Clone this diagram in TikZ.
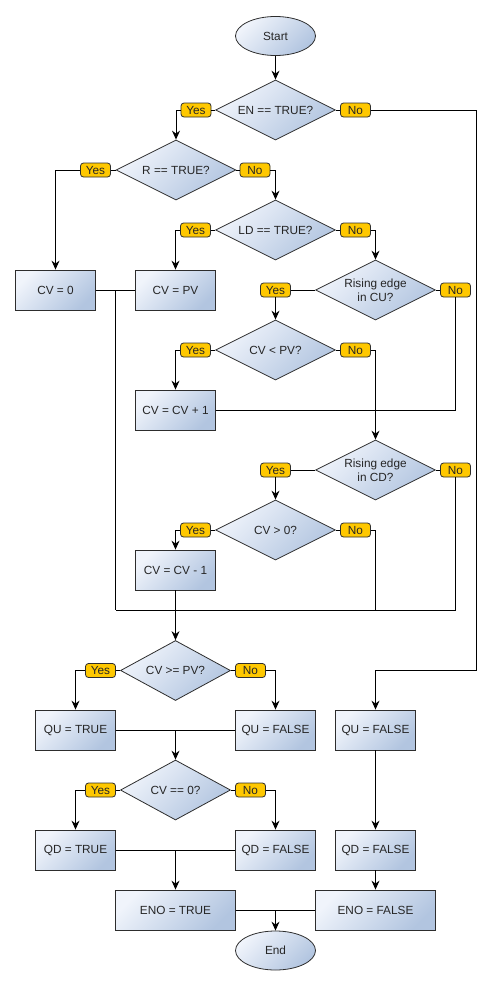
\documentclass[tikz,border=0pt]{standalone}
\usepackage{fontspec}
\setmainfont{Liberation Sans}
\usetikzlibrary{shapes.geometric,arrows.meta}
\definecolor{flight}{RGB}{240,244,251}
\definecolor{fdark}{RGB}{178,197,224}
\definecolor{edge}{RGB}{45,45,45}
\definecolor{lblyel}{RGB}{255,200,0}
\begin{document}
\begin{tikzpicture}[x=1pt,y=-1pt,
  every node/.style={font=\fontsize{11.8}{14}\selectfont, text=black!85},
  filled/.style={draw=edge, line width=0.8pt, top color=flight, bottom color=fdark, shading angle=45},
  procbox/.style={filled, rectangle, minimum width=80pt, minimum height=40pt, inner sep=0pt},
  widebox/.style={procbox, minimum width=120pt},
  term/.style={filled, ellipse, minimum width=80pt, minimum height=39pt, inner sep=0pt},
  decide/.style={filled, diamond, minimum width=120pt, minimum height=60pt, inner sep=0pt, aspect=2, align=center},
  decidesm/.style={decide, minimum width=110pt},
  tag/.style={draw=edge, line width=0.8pt, fill=lblyel, rounded corners=3pt, minimum width=30pt, minimum height=14pt, inner sep=0pt},
  line/.style={draw=black, line width=1pt},
  arr/.style={line, -{Stealth[length=9pt,width=8pt,inset=3pt]}}
]
\useasboundingbox (0,0) rectangle (490,985);

% nodes
\node[term] (start) at (275.5,36) {Start};
\node[decide] (en) at (275.5,110) {EN == TRUE?};
\node[tag] (enyes) at (196,110) {Yes};
\node[tag] (enno) at (355.5,110) {No};

\node[decide] (r) at (176,170) {R == TRUE?};
\node[tag] (ryes) at (95.5,170) {Yes};
\node[tag] (rno) at (255,170) {No};

\node[decide] (ld) at (275.5,230) {LD == TRUE?};
\node[tag] (ldyes) at (195.5,230) {Yes};
\node[tag] (ldno) at (355.5,230) {No};

\node[procbox] (cvz) at (55.5,290) {CV = 0};
\node[procbox] (cvpv) at (175.5,290) {CV = PV};

\node[decide] (cu) at (375.5,290) {Rising edge\\in CU?};
\node[tag] (cuyes) at (275.5,290) {Yes};
\node[tag] (cuno) at (455.5,290) {No};

\node[decide] (cvlt) at (275.5,350) {CV < PV?};
\node[tag] (cvltyes) at (195.5,350) {Yes};
\node[tag] (cvltno) at (355.5,350) {No};

\node[procbox] (cvinc) at (175.5,410) {CV = CV + 1};

\node[decide] (cd) at (375.5,470) {Rising edge\\in CD?};
\node[tag] (cdyes) at (275.5,470) {Yes};
\node[tag] (cdno) at (455.5,470) {No};

\node[decide] (cvgt) at (275.5,530) {CV > 0?};
\node[tag] (cvgtyes) at (195.5,530) {Yes};
\node[tag] (cvgtno) at (355.5,530) {No};

\node[procbox] (cvdec) at (175.5,570) {CV = CV - 1};

\node[decidesm] (cvge) at (175.5,670.5) {CV >= PV?};
\node[tag] (cvgeyes) at (100.5,670.5) {Yes};
\node[tag] (cvgeno) at (250.5,670.5) {No};

\node[procbox] (qut) at (75.5,730) {QU = TRUE};
\node[procbox] (quf) at (275.5,730) {QU = FALSE};
\node[procbox] (qufr) at (375.5,730) {QU = FALSE};

\node[decidesm] (cveq) at (175.5,790) {CV == 0?};
\node[tag] (cveqyes) at (100.5,790) {Yes};
\node[tag] (cveqno) at (250.5,790) {No};

\node[procbox] (qdt) at (75.5,850) {QD = TRUE};
\node[procbox] (qdf) at (275.5,850) {QD = FALSE};
\node[procbox] (qdfr) at (375.5,850) {QD = FALSE};

\node[widebox] (enot) at (175.5,910) {ENO = TRUE};
\node[widebox] (enof) at (375.5,910) {ENO = FALSE};

\node[term] (finish) at (275.5,950.5) {End};

% junction coordinates
\coordinate (j0) at (115.5,290);
\coordinate (j1) at (115.5,610);
\coordinate (j2) at (375.5,610);
\coordinate (j3) at (455.5,610);
\coordinate (k1) at (476,670.5);
\coordinate (q1) at (175.5,730);
\coordinate (q2) at (175.5,850);
\coordinate (q3) at (275.5,910);

% connectors
\draw[arr] (start) -- (en);
\draw[line] (en.west) -- (enyes.east);
\draw[arr] (enyes.west) -| (r.north);
\draw[line] (en.east) -- (enno.west);
\draw[arr] (enno.east) -| (k1) -| (qufr.north);

\draw[line] (r.west) -- (ryes.east);
\draw[arr] (ryes.west) -| (cvz.north);
\draw[line] (r.east) -- (rno.west);
\draw[arr] (rno.east) -| (ld.north);

\draw[line] (ld.west) -- (ldyes.east);
\draw[arr] (ldyes.west) -| (cvpv.north);
\draw[line] (ld.east) -- (ldno.west);
\draw[arr] (ldno.east) -| (cu.north);

\draw[line] (cvz.east) -- (cvpv.west);
\draw[line] (j0) -- (j1);

\draw[line] (cu.west) -- (cuyes.east);
\draw[arr] (cuyes.south) -- (cvlt.north);
\draw[line] (cu.east) -- (cuno.west);
\draw[line] (cuno.south) |- (cvinc.east);

\draw[line] (cvlt.west) -- (cvltyes.east);
\draw[arr] (cvltyes.west) -| (cvinc.north);
\draw[line] (cvlt.east) -- (cvltno.west);
\draw[arr] (cvltno.east) -| (cd.north);

\draw[line] (cd.west) -- (cdyes.east);
\draw[arr] (cdyes.south) -- (cvgt.north);
\draw[line] (cd.east) -- (cdno.west);
\draw[line] (cdno.south) -- (j3) -- (j1);

\draw[line] (cvgt.west) -- (cvgtyes.east);
\draw[arr] (cvgtyes.west) -| (cvdec.north);
\draw[line] (cvgt.east) -- (cvgtno.west);
\draw[line] (cvgtno.east) -| (j2);

\draw[arr] (cvdec.south) -- (cvge.north);

\draw[line] (cvge.west) -- (cvgeyes.east);
\draw[arr] (cvgeyes.west) -| (qut.north);
\draw[line] (cvge.east) -- (cvgeno.west);
\draw[arr] (cvgeno.east) -| (quf.north);

\draw[line] (qut.east) -- (quf.west);
\draw[arr] (q1) -- (cveq.north);

\draw[line] (cveq.west) -- (cveqyes.east);
\draw[arr] (cveqyes.west) -| (qdt.north);
\draw[line] (cveq.east) -- (cveqno.west);
\draw[arr] (cveqno.east) -| (qdf.north);

\draw[arr] (qufr.south) -- (qdfr.north);

\draw[line] (qdt.east) -- (qdf.west);
\draw[arr] (q2) -- (enot.north);
\draw[arr] (qdfr.south) -- (enof.north);

\draw[line] (enot.east) -- (enof.west);
\draw[arr] (q3) -- (finish.north);
\end{tikzpicture}
\end{document}
